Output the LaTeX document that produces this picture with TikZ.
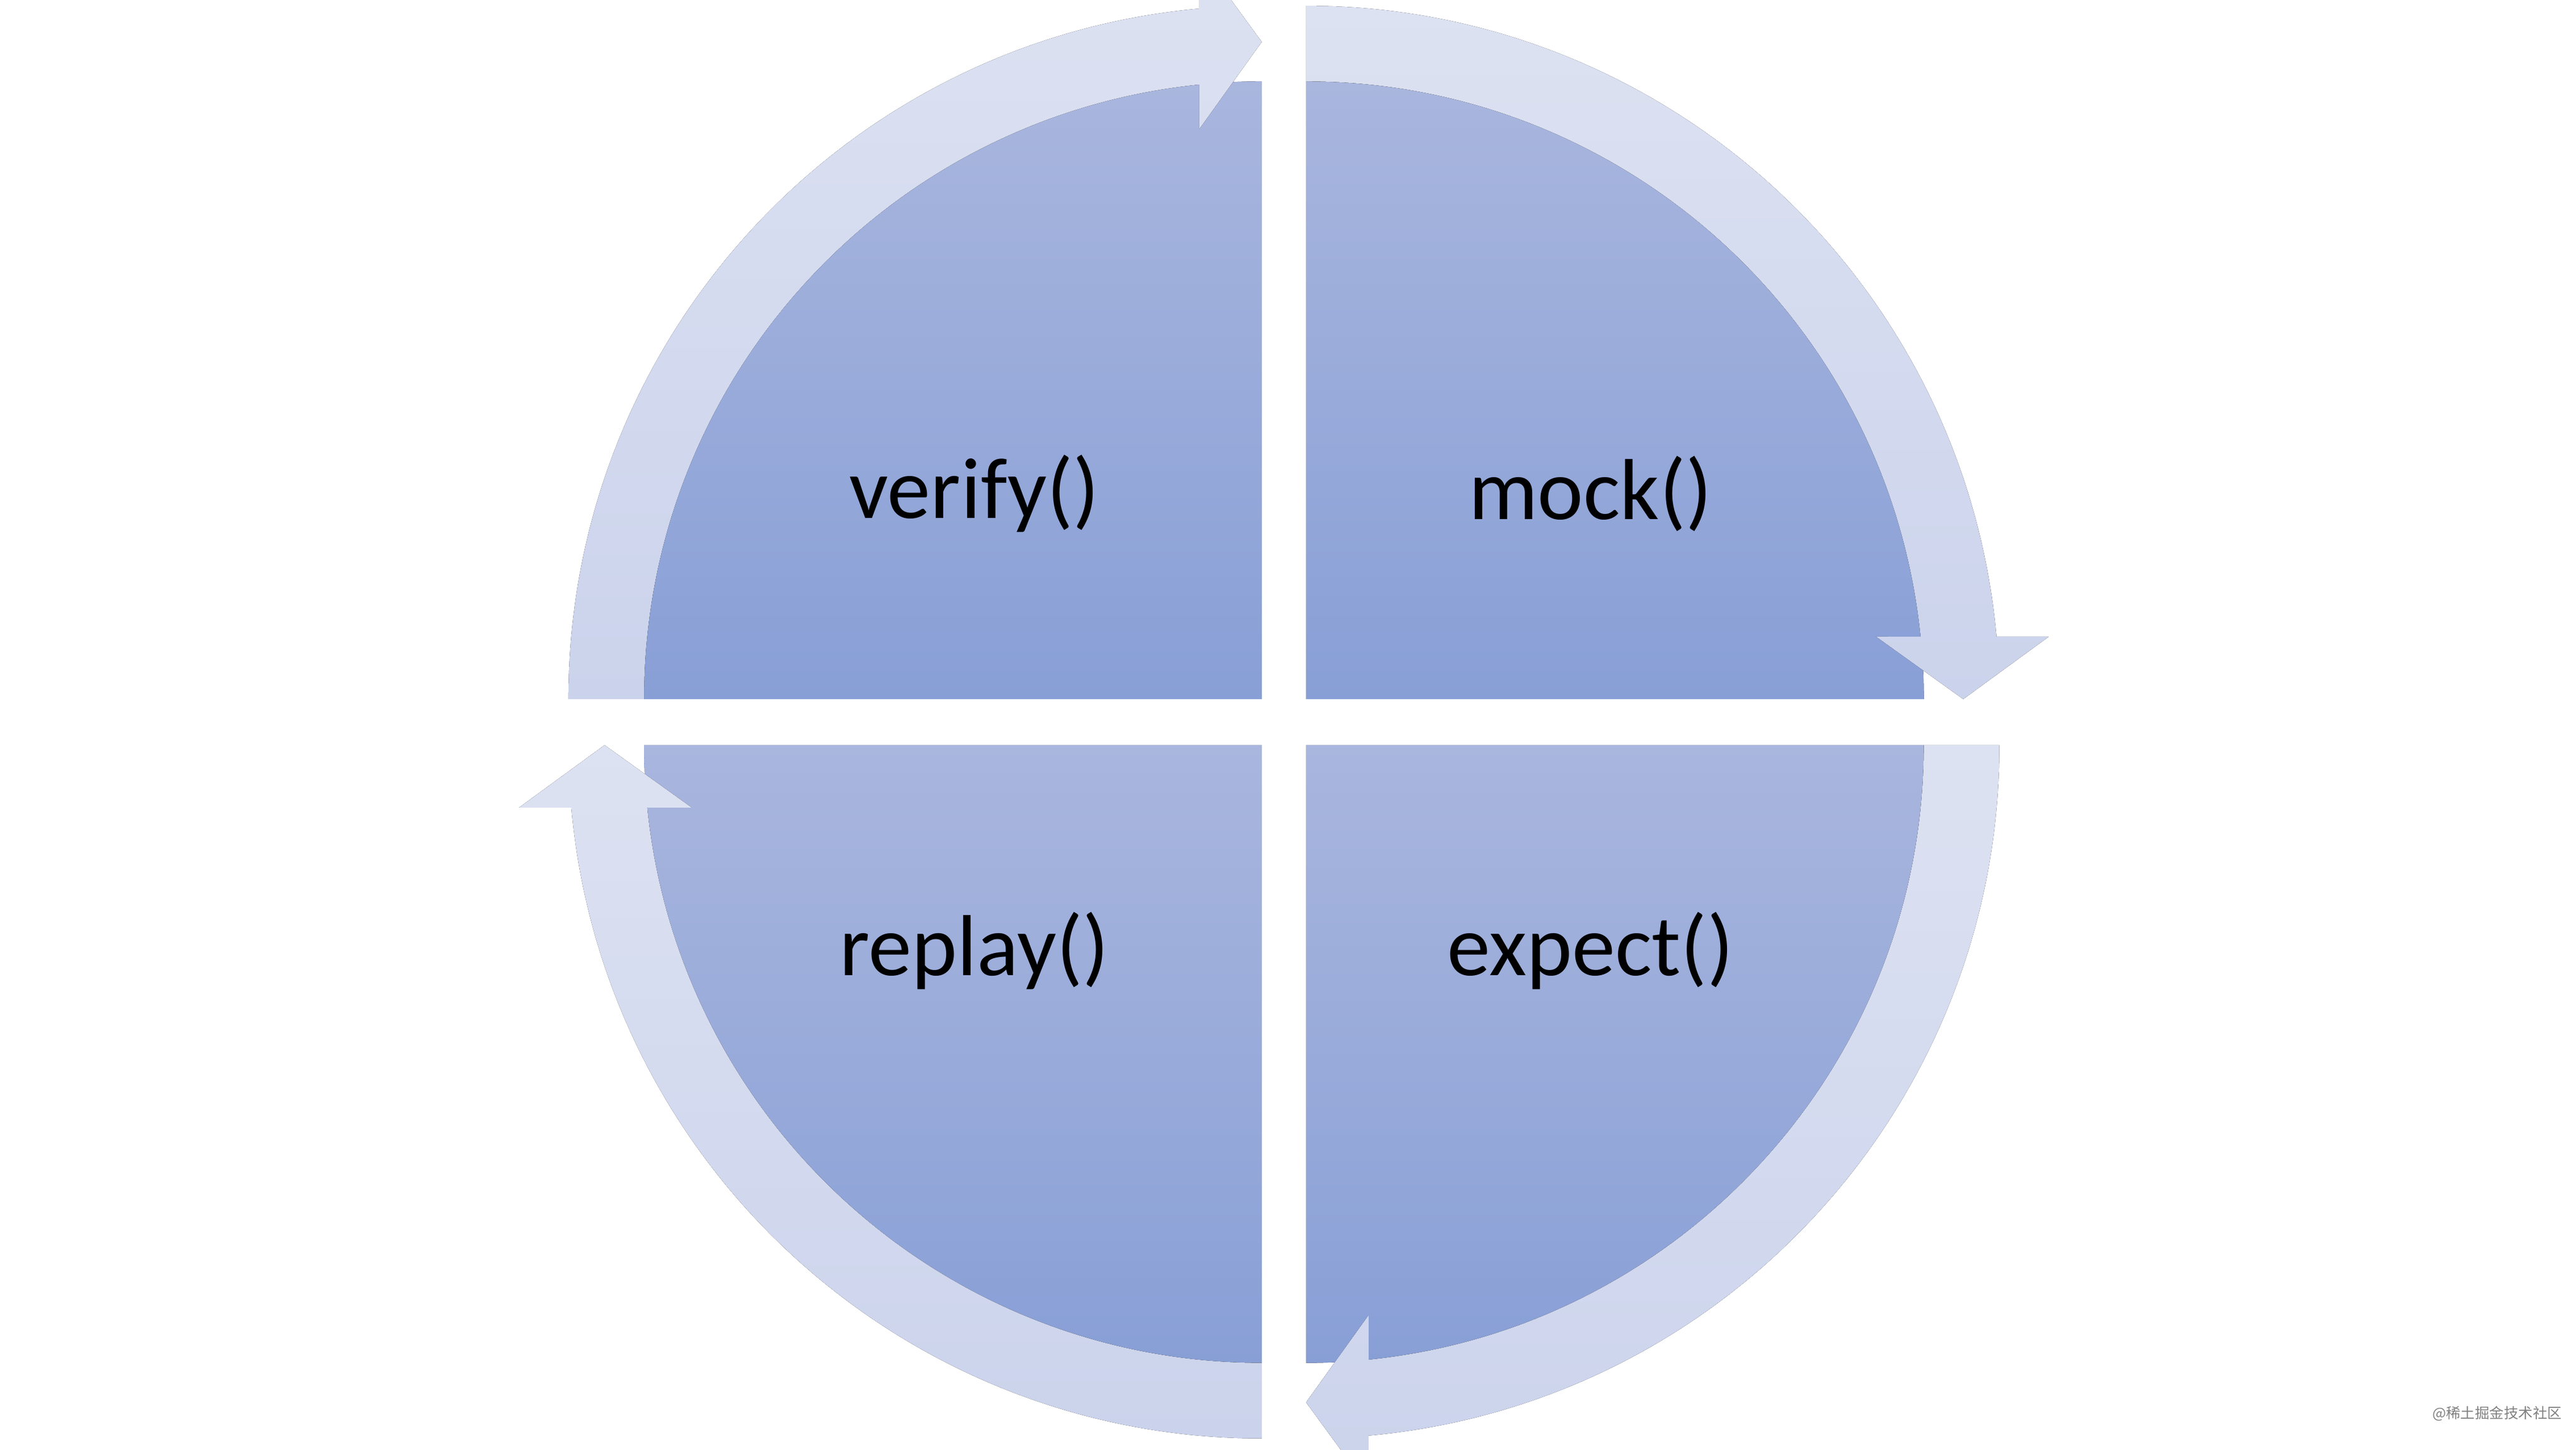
\documentclass[tikz,border=0pt]{standalone}
\usepackage{fontspec}
\setmainfont{Carlito}
\newfontfamily\cjk{Noto Sans CJK SC}
\definecolor{pieT}{HTML}{A9B6DE}
\definecolor{pieB}{HTML}{889FD6}
\definecolor{ringT}{HTML}{DDE2F2}
\definecolor{ringB}{HTML}{CBD3EC}
\tikzset{
  pie/.style={top color=pieT,bottom color=pieB,draw=none},
  ring/.style={top color=ringT,bottom color=ringB,draw=none},
  lbl/.style={font=\fontsize{15}{18}\selectfont,text=black}
}
\newcommand{\ringarrow}[2]{% center, end angle (clockwise quarter)
  \begin{scope}[shift={#1},rotate=#2]
  \fill[ring] (90:4.22) arc[start angle=90, end angle=5.17, radius=4.22]
    -- (4.52,0.38) -- (4.0,0) -- (3.47,0.38) -- (5.8:3.76)
    arc[start angle=5.8, end angle=90, radius=3.76] -- cycle;
  \end{scope}}
\begin{document}
\begin{tikzpicture}
\useasboundingbox (0,0) rectangle (15.68,8.825);
\coordinate (ctr) at (7.95,4.57);
\coordinate (cbr) at (7.95,4.29);
\coordinate (cbl) at (7.68,4.29);
\coordinate (ctl) at (7.68,4.57);
\fill[pie] (ctr) -- ++(0,3.76) arc[start angle=90,end angle=0,radius=3.76] -- cycle;
\fill[pie] (cbr) -- ++(3.76,0) arc[start angle=0,end angle=-90,radius=3.76] -- cycle;
\fill[pie] (cbl) -- ++(0,-3.76) arc[start angle=270,end angle=180,radius=3.76] -- cycle;
\fill[pie] (ctl) -- ++(-3.76,0) arc[start angle=180,end angle=90,radius=3.76] -- cycle;
\ringarrow{(7.95,4.57)}{0}
\ringarrow{(7.95,4.29)}{-90}
\ringarrow{(7.68,4.29)}{180}
\ringarrow{(7.68,4.57)}{90}
\node[lbl] (mock) at (9.68,5.82) {mock()};
\node[lbl] (verify) at (5.93,5.82) {verify()};
\node[lbl] (replay) at (5.93,3.04) {replay()};
\node[lbl] (expect) at (9.68,3.04) {expect()};
\node[font=\cjk\fontsize{2.5}{3}\selectfont,text=gray] (wm) at (15.2,0.22) {@稀土掘金技术社区};
\end{tikzpicture}
\end{document}
